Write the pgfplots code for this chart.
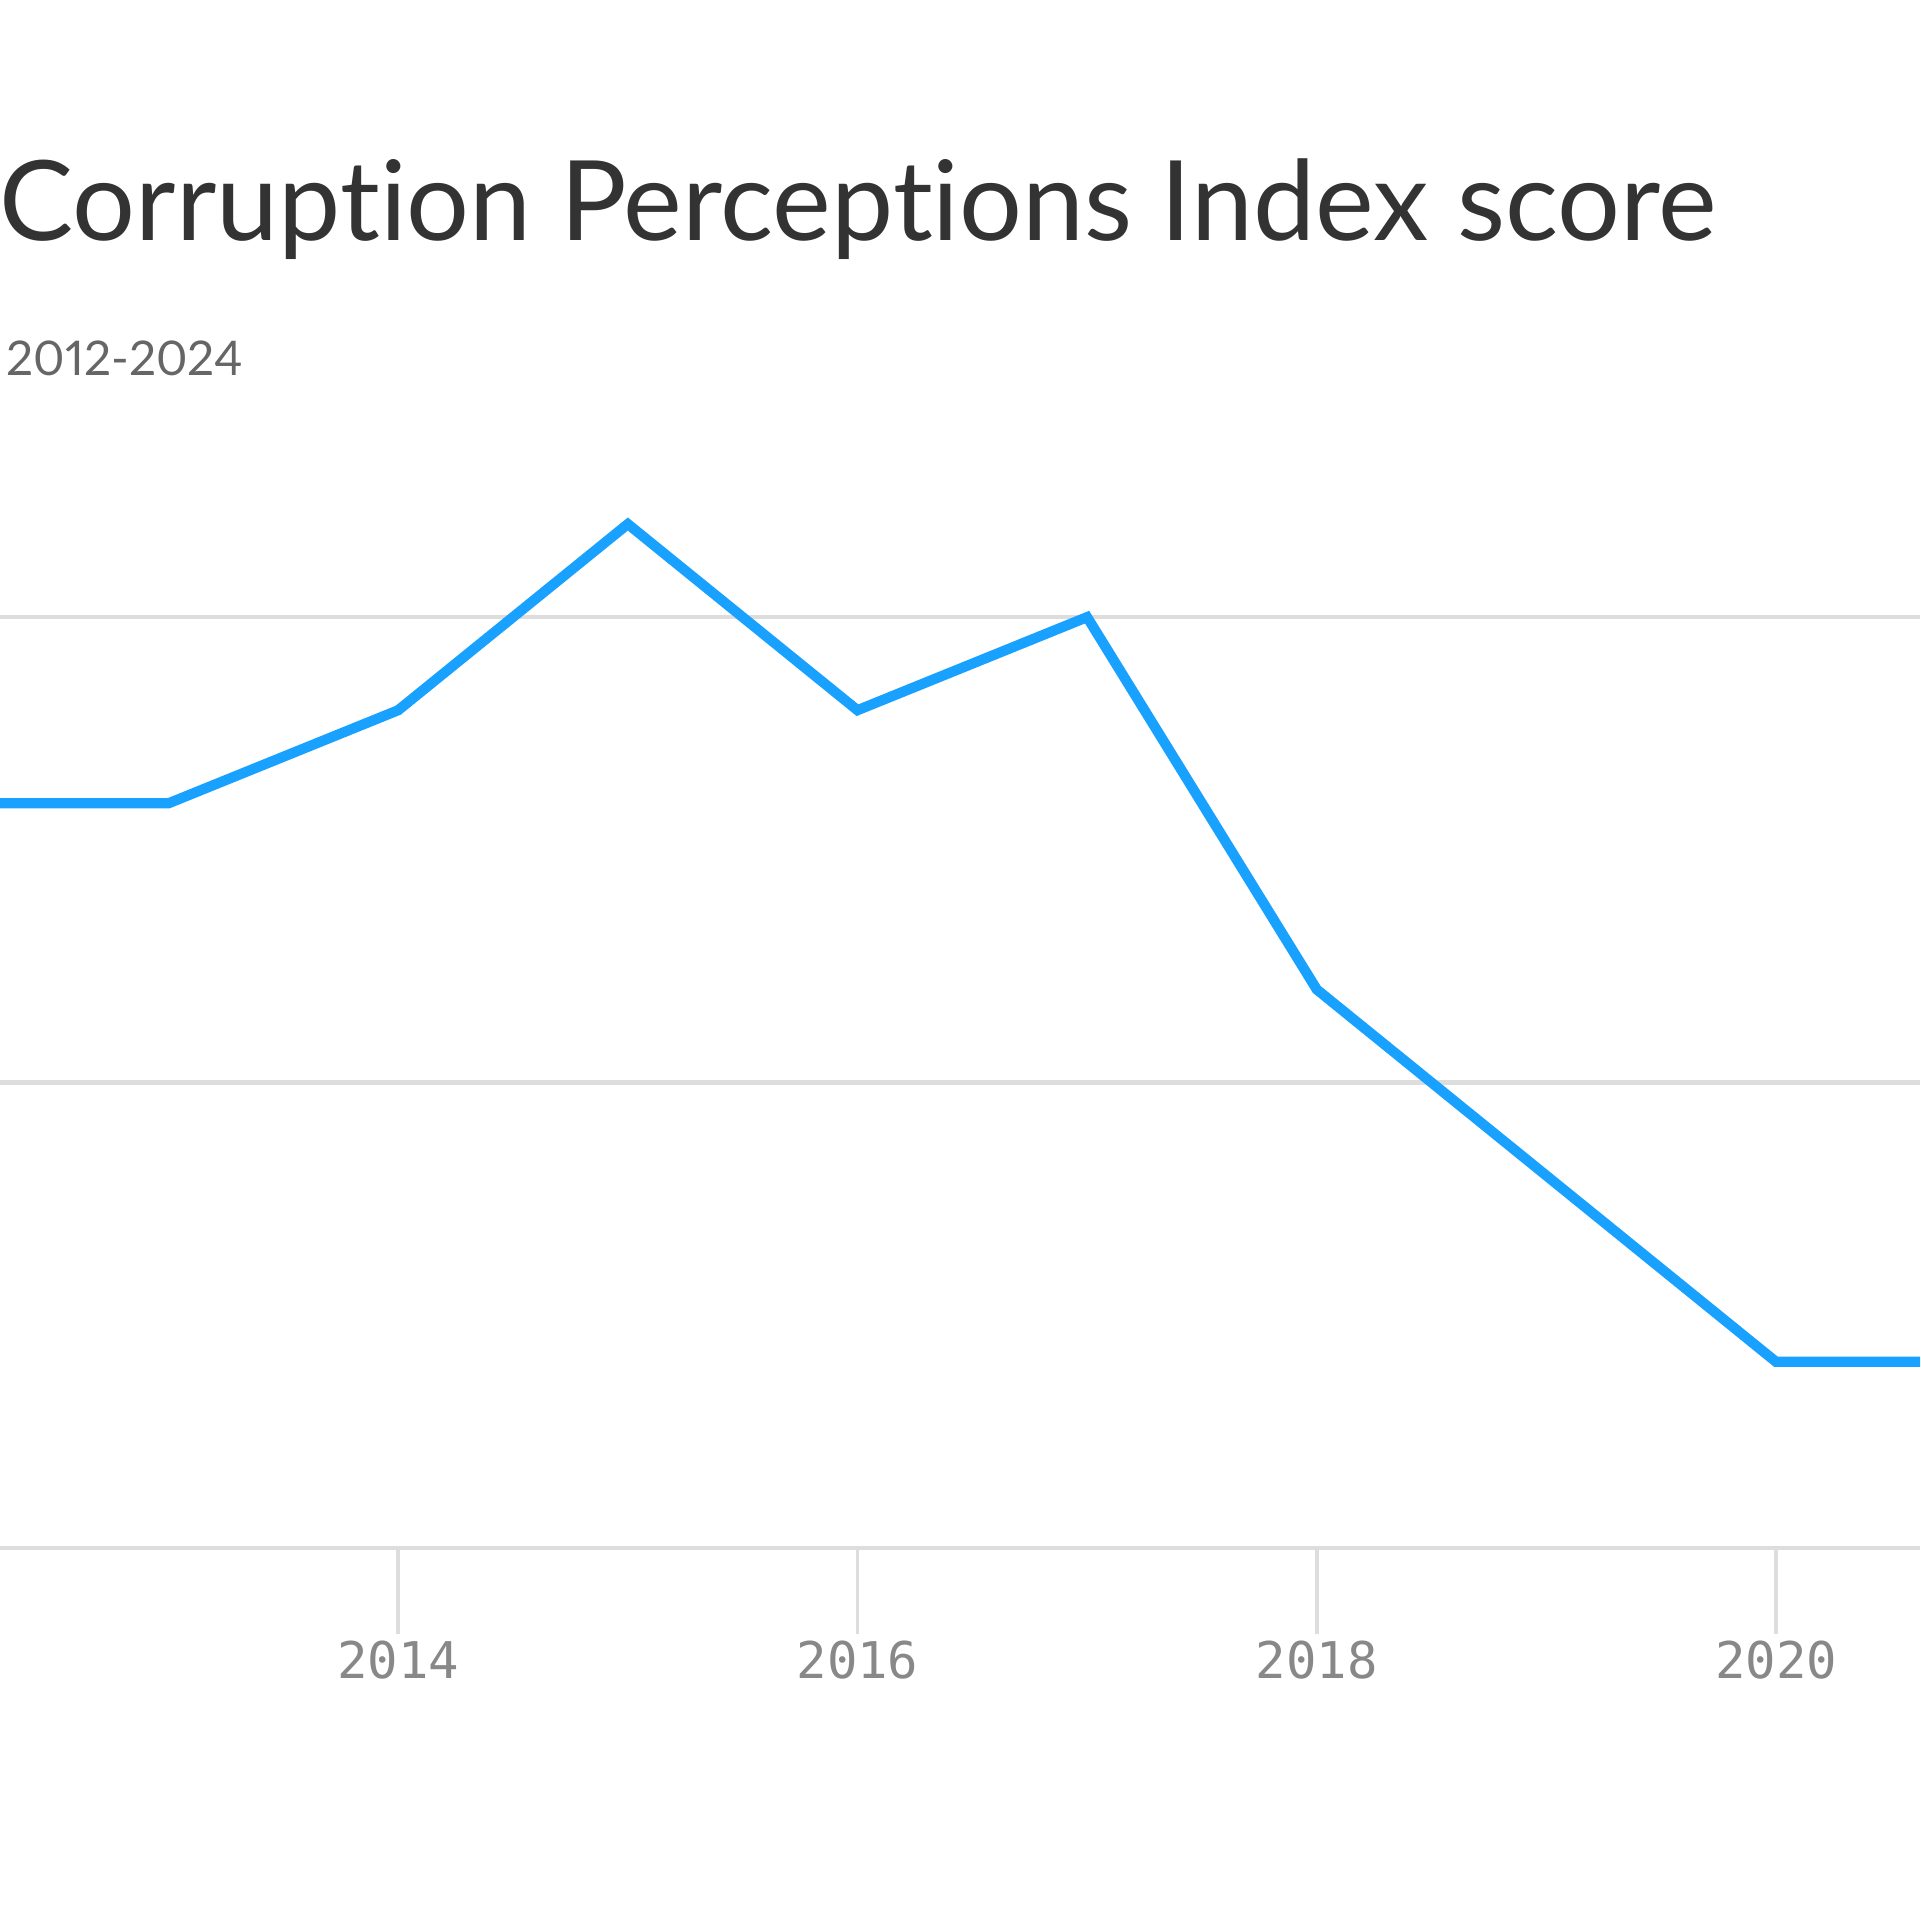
\documentclass[border=0pt]{standalone}
\usepackage{pgfplots}
\pgfplotsset{compat=1.18}
\usepackage{fontspec}
\setmainfont[Ligatures={CommonOff}, Numbers={Proportional,Lining}]{Lato}
\setmonofont{DejaVu Sans Mono}
\definecolor{lineblue}{RGB}{24,161,255}
\definecolor{titlegray}{RGB}{51,51,51}
\definecolor{subgray}{RGB}{102,102,102}
\definecolor{tickgray}{RGB}{136,136,136}
\definecolor{gridgray}{RGB}{221,221,221}
\begin{document}
\begin{tikzpicture}
\path[use as bounding box, clip] (0,0) rectangle (19.2cm,19.2cm);
\begin{axis}[
  at={(0,3.72cm)}, anchor=south west,
  scale only axis, width=19.2cm, height=15.48cm,
  xmin=2012.266, xmax=2020.627,
  ymin=65, ymax=81.63,
  axis line style={draw=none},
  xtick={2014,2016,2018,2020},
  xticklabels={2014,2016,2018,2020},
  xtick pos=bottom, tick align=outside,
  major tick length=0.86cm,
  x tick style={draw=gridgray, line width=1.1pt},
  xticklabel style={font=\ttfamily\fontsize{14.4}{16}\selectfont, text=tickgray, anchor=base, yshift=-0.45cm},
  ytick={65,70,75},
  yticklabels={},
  y tick style={draw=none},
  ymajorgrids,
  grid style={draw=gridgray, line width=1.3pt},
  clip=true,
]
\addplot[lineblue, line width=2.9pt, line join=miter] coordinates {
(2012,73) (2013,73) (2014,74) (2015,76) (2016,74) (2017,75) (2018,71) (2019,69) (2020,67) (2021,67)
};
\end{axis}
\node[anchor=base west, inner sep=0pt, text=titlegray, font=\fontsize{31.6}{36}\selectfont] at (-0.01cm,16.79cm) {Corruption Perceptions Index score};
\node[anchor=base west, inner sep=0pt, text=subgray, font=\fontsize{13.6}{16}\selectfont] at (0.06cm,15.44cm) {2012-2024};
\end{tikzpicture}
\end{document}
